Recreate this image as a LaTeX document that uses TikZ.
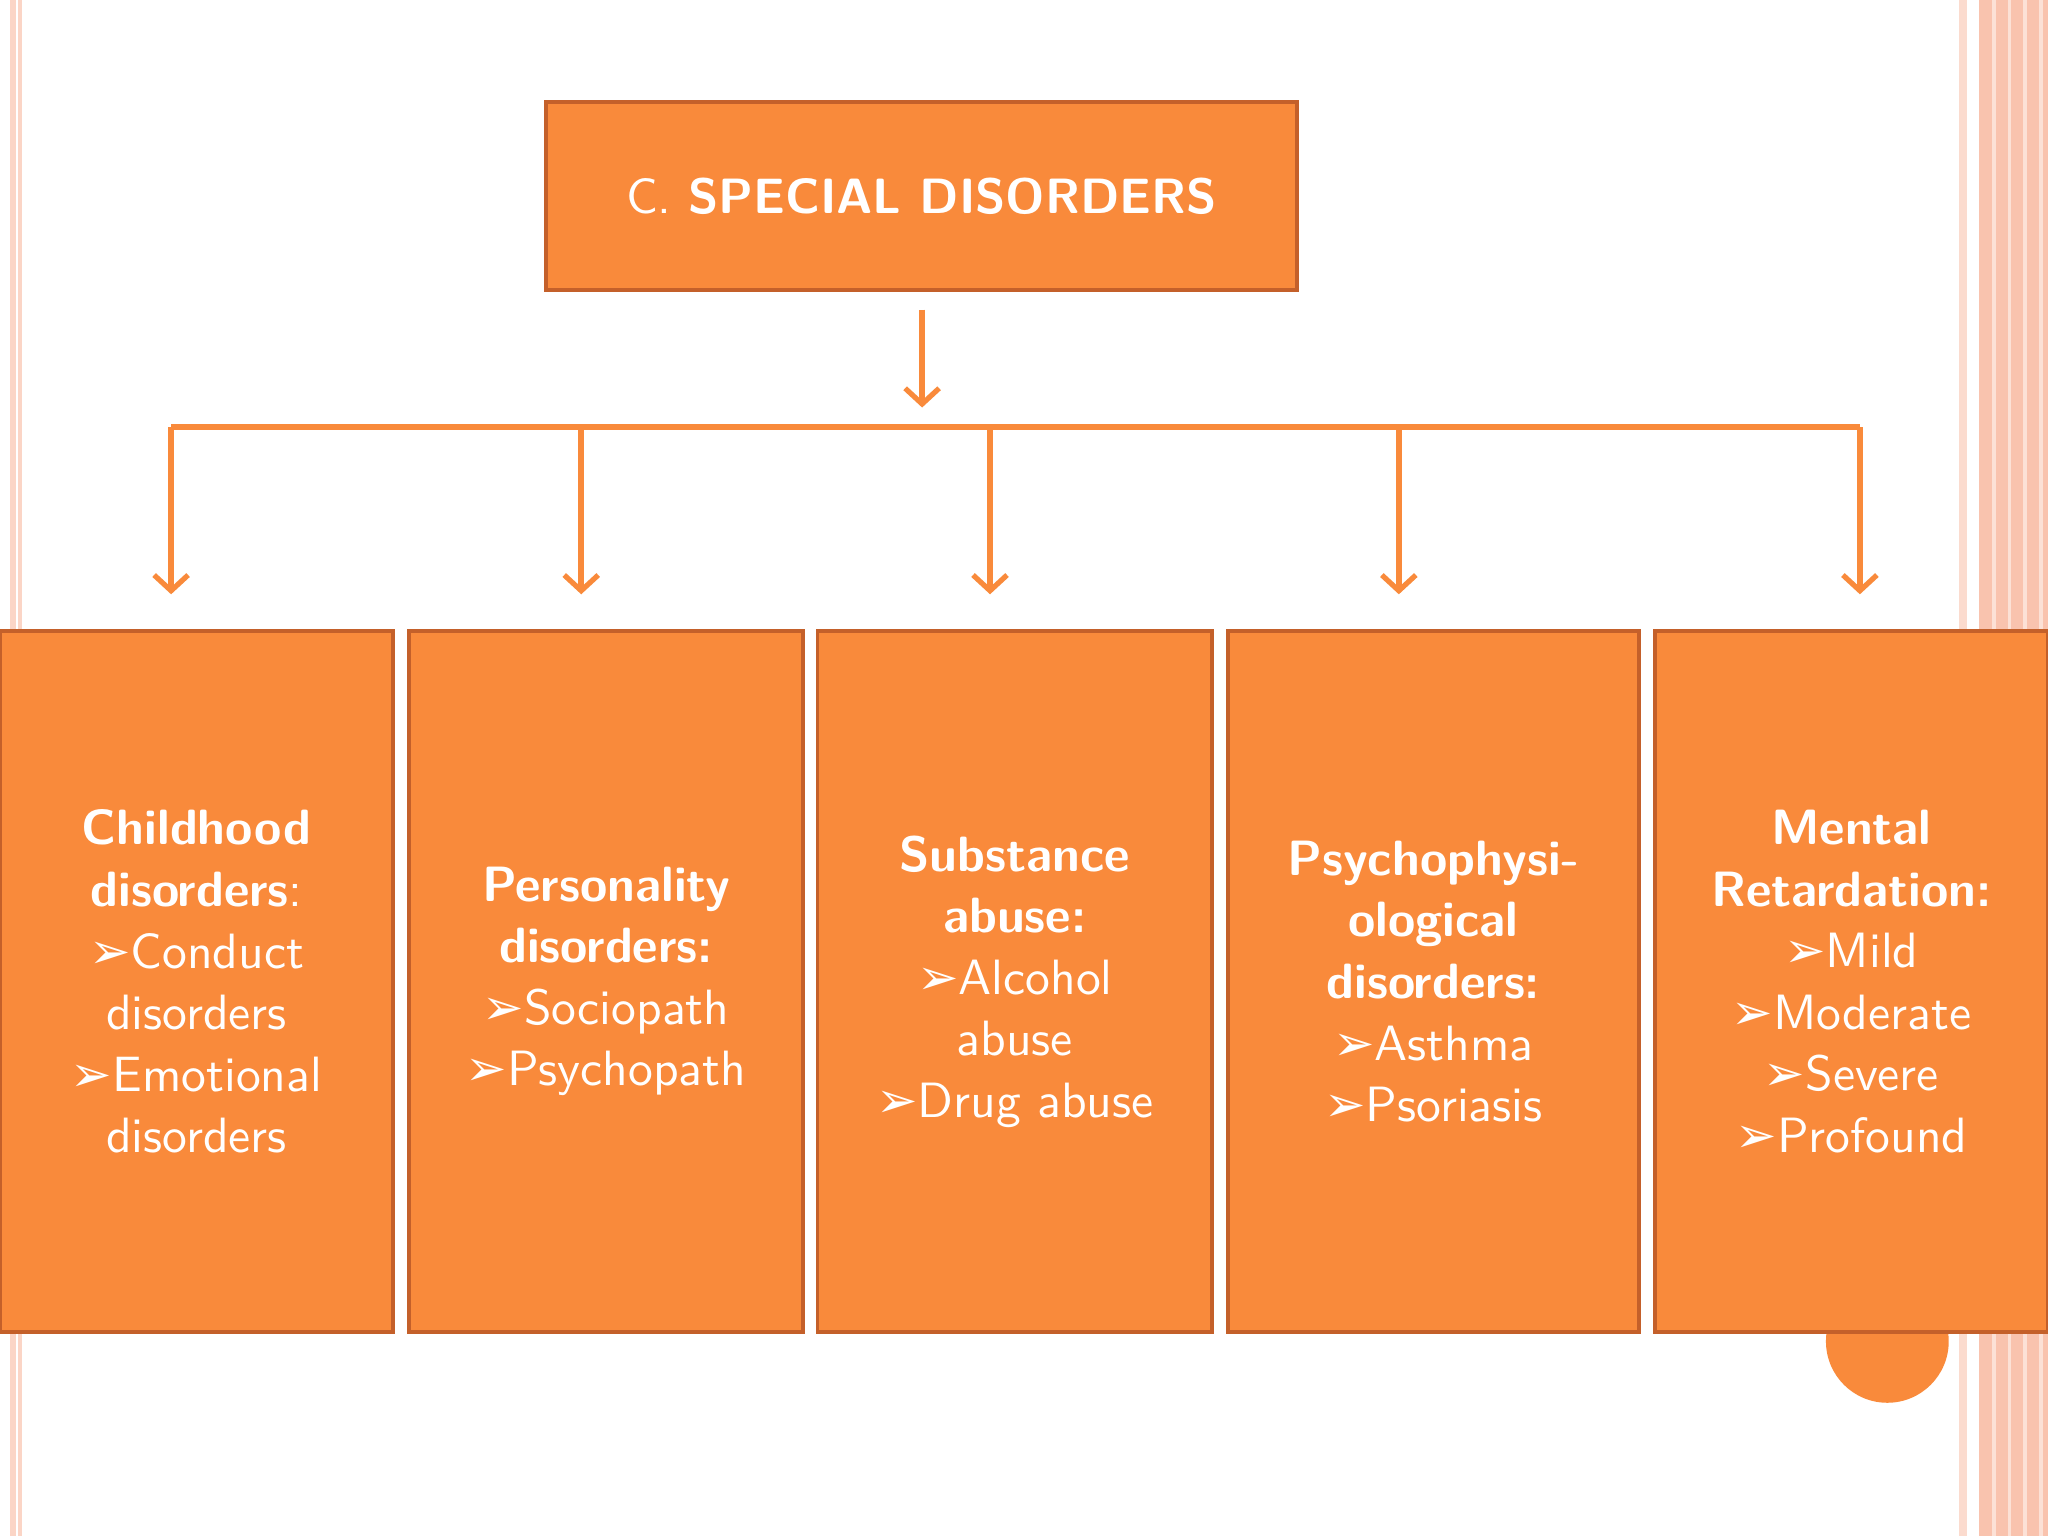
\documentclass[tikz,border=0pt]{standalone}
\usepackage{fontspec}
\setmainfont{Liberation Sans}
\newfontfamily\dingfont{DejaVu Sans}
\usetikzlibrary{arrows.meta}
\definecolor{boxfill}{HTML}{F98A3B}
\definecolor{boxline}{HTML}{C4602A}
\definecolor{stripe}{HTML}{F9C3AE}
\newcommand{\pt}{{\dingfont\char"27A2}}
\tikzset{
    every picture/.style={/utils/exec={\sffamily}},
    box/.style={draw=boxline, line width=0.03cm, fill=boxfill, text=white, align=center,
        font=\fontsize{10.8pt}{13.4pt}\selectfont},
    link/.style={draw=boxfill, line width=0.05cm},
    drop/.style={link, -{Straight Barb[length=0.12cm, width=0.26cm, line width=0.04cm]}}
}
\begin{document}
\begin{tikzpicture}[x=0.01cm, y=-0.01cm]
    \useasboundingbox (0, 0) rectangle (1568, 1176);
    \fill [white] (0, 0) rectangle (1568, 1176);
    % side stripes
    \fill [stripe!70] (8, 0) rectangle ++(4, 1176);
    \fill [stripe!70] (14, 0) rectangle ++(3, 1176);
    \fill [stripe!60] (1500, 0) rectangle ++(6, 1176);
    \fill [stripe] (1515, 0) rectangle (1568, 1176);
    \foreach \i in {0, ..., 3}{
        \fill [stripe!50] (1525 + 12*\i, 0) rectangle ++(3, 1176);
    }
    \fill [boxfill] (1445, 1027) circle (47);
    % top
    \node [box, minimum width=5.75cm, minimum height=1.44cm] (top) at (705.5, 150)
        {C. \textbf{SPECIAL DISORDERS}};
    \coordinate (hub) at (706, 327);
    \draw [drop] (706, 237) -- (706, 312);
    \draw [link] (131, 327) -- (1424, 327);
    % lower boxes
    \foreach \name/\x/\w/\t in {
        child/150.5/3.01/{\textbf{Childhood}\\\textbf{disorders}:\\\pt Conduct\\disorders\\\pt Emotional\\disorders},
        pers/464/3.02/{\textbf{Personality}\\\textbf{disorders:}\\\pt Sociopath\\\pt Psychopath},
        subst/777/3.02/{\textbf{Substance}\\\textbf{abuse:}\\\pt Alcohol\\abuse\\\pt Drug abuse},
        psycho/1097.5/3.15/{\textbf{Psychophysi-}\\\textbf{ological}\\\textbf{disorders:}\\\pt Asthma\\\pt Psoriasis},
        mental/1417.5/3.01/{\textbf{Mental}\\\textbf{Retardation:}\\\pt Mild\\\pt Moderate\\\pt Severe\\\pt Profound}}{
        \node [box, minimum width=\w cm, minimum height=5.37cm] (\name) at (\x, 751.5) {\t};
    }
    \foreach \x in {131, 445, 758, 1071, 1424}{
        \draw [drop] (\x, 327) -- (\x, 455);
    }
\end{tikzpicture}
\end{document}
